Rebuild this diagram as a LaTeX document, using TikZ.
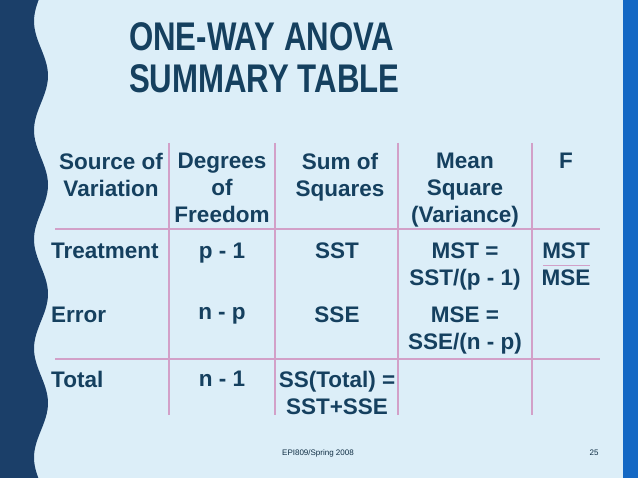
\documentclass[tikz,border=0pt]{standalone}
\usepackage{fontspec}
\setmainfont{Liberation Sans}
\begin{document}
\begin{tikzpicture}[x=1pt,y=-1pt,
  txt/.style={font=\fontsize{22.5}{27}\selectfont\bfseries, text=ink, inner sep=0pt, align=center},
  rule/.style={draw=rulec, line width=1.2pt}]
\definecolor{bg}{HTML}{DCEEF8}
\definecolor{band}{HTML}{1B3F69}
\definecolor{bar}{HTML}{1468C4}
\definecolor{ink}{HTML}{15405F}
\definecolor{rulec}{HTML}{D2A0C8}
\fill[bg] (0,0) rectangle (638,478);
\useasboundingbox (0,0) rectangle (638,478);
\fill[band] (0,0) -- plot[domain=0:478,samples=120,smooth] ({41+7*sin(\x*3.3+200)},\x) -- (0,478) -- cycle;
\fill[bar] (623,0) rectangle (638,478);
% title
\node[anchor=west, font=\fontsize{40}{42}\selectfont\bfseries, text=ink, xscale=0.78, inner sep=0pt, align=left] (title) at (129,58) {ONE-WAY ANOVA\\SUMMARY TABLE};
% grid
\coordinate (v1t) at (169,143); \coordinate (v1b) at (169,415);
\coordinate (v2t) at (275,143); \coordinate (v2b) at (275,415);
\coordinate (v3t) at (398,143); \coordinate (v3b) at (398,415);
\coordinate (v4t) at (532,143); \coordinate (v4b) at (532,415);
\coordinate (h1l) at (55,229); \coordinate (h1r) at (600,229);
\coordinate (h2l) at (55,359); \coordinate (h2r) at (600,359);
\draw[rule] (v1t) -- (v1b); \draw[rule] (v2t) -- (v2b);
\draw[rule] (v3t) -- (v3b); \draw[rule] (v4t) -- (v4b);
\draw[rule] (h1l) -- (h1r); \draw[rule] (h2l) -- (h2r);
% header
\node[txt, anchor=north] (c1) at (111,153) {Source of\\Variation};
\node[txt, anchor=north] (c2) at (222,153) {Degrees\\of\\Freedom};
\node[txt, anchor=north] (c3) at (340,153) {Sum of\\Squares};
\node[txt, anchor=north] (c4) at (465,153) {Mean\\Square\\(Variance)};
\node[txt, anchor=north] (c5) at (566,153) {F};
% rows
\node[txt, anchor=north west] (r1) at (51,243) {Treatment};
\node[txt, anchor=north] (r1b) at (222,243) {p - 1};
\node[txt, anchor=north] (r1c) at (337,243) {SST};
\node[txt, anchor=north] (r1d) at (465,243) {MST =\\SST/(p - 1)};
\node[txt, anchor=north] (r1e) at (566,243) {MST\\MSE};
\coordinate (fl) at (543,265); \coordinate (fr) at (590,265);
\draw[draw=rulec, line width=0.8pt] (fl) -- (fr);
\node[txt, anchor=north west] (r2) at (51,307) {Error};
\node[txt, anchor=north] (r2b) at (222,307) {n - p};
\node[txt, anchor=north] (r2c) at (337,307) {SSE};
\node[txt, anchor=north] (r2d) at (465,307) {MSE =\\SSE/(n - p)};
\node[txt, anchor=north west] (r3) at (51,371) {Total};
\node[txt, anchor=north] (r3b) at (222,371) {n - 1};
\node[txt, anchor=north] (r3c) at (337,371) {SS(Total) =\\SST+SSE};
% footer
\node[font=\fontsize{8}{9}\selectfont, text=ink!70!black] (foot) at (318,453) {EPI809/Spring 2008};
\node[font=\fontsize{8}{9}\selectfont, text=ink!70!black] (pg) at (594,453) {25};
\end{tikzpicture}
\end{document}
